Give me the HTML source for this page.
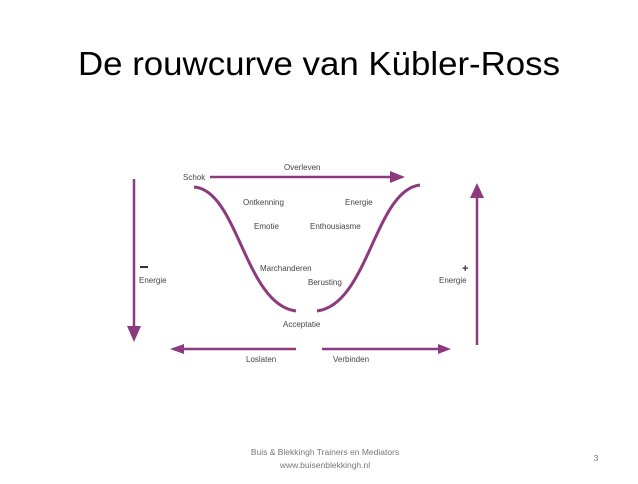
<!DOCTYPE html>
<html><head><style>html,body{margin:0;padding:0;background:#fff}</style></head>
<body>
<svg width="638" height="479" xmlns="http://www.w3.org/2000/svg" font-family="Liberation Sans, sans-serif">
<text x="78" y="75" font-size="33" fill="#000" textLength="482" lengthAdjust="spacingAndGlyphs">De rouwcurve van Kübler-Ross</text>
<g stroke="#8b3a7e" stroke-width="2.5" fill="none">
<line x1="134" y1="179" x2="134" y2="328"/>
<line x1="210" y1="177" x2="392" y2="177"/>
<line x1="477" y1="345" x2="477" y2="197"/>
<line x1="296" y1="349" x2="182" y2="349"/>
<line x1="322" y1="349" x2="440" y2="349"/>
<path d="M194 187 C238 190 245 305 296 311" stroke-width="3"/>
<path d="M317 311 C368 305 375 190 420 185" stroke-width="3"/>
</g>
<g fill="#8b3a7e">
<polygon points="127,326 141,326 134,342"/>
<polygon points="390,171 390,183 405,177"/>
<polygon points="470,198 484,198 477,183"/>
<polygon points="184,344 184,354 170,349"/>
<polygon points="438,344 438,354 451,349"/>
</g>
<g font-size="8" fill="#444">
<text x="183" y="180">Schok</text>
<text x="284" y="170">Overleven</text>
<text x="243" y="205">Ontkenning</text>
<text x="345" y="205">Energie</text>
<text x="254" y="229">Emotie</text>
<text x="310" y="229">Enthousiasme</text>
<text x="260" y="271">Marchanderen</text>
<text x="308" y="285">Berusting</text>
<text x="283" y="327">Acceptatie</text>
<text x="246" y="362">Loslaten</text>
<text x="333" y="362">Verbinden</text>
<text x="139" y="283">Energie</text>
<text x="439" y="283">Energie</text>
</g>
<rect x="140" y="266" width="8" height="2" fill="#333"/>
<text x="462" y="272" font-size="11" font-weight="bold" fill="#333">+</text>
<g font-size="8.5" fill="#777" text-anchor="middle">
<text x="325" y="455">Buis &amp; Blekkingh Trainers en Mediators</text>
<text x="325" y="468">www.buisenblekkingh.nl</text>
<text x="596" y="461">3</text>
</g>
</svg>
</body></html>
